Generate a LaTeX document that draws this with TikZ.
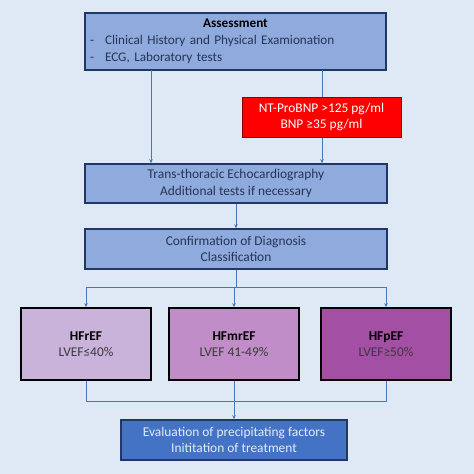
\documentclass[tikz,border=0pt]{standalone}
\usepackage{fontspec}
\setmainfont{Carlito}
\usetikzlibrary{arrows.meta}
\definecolor{bgc}{HTML}{DEE9F5}
\definecolor{boxblue}{HTML}{8FAADC}
\definecolor{navy}{HTML}{1F3864}
\definecolor{txtnavy}{HTML}{253555}
\definecolor{redfill}{HTML}{FF0000}
\definecolor{redborder}{HTML}{8B0000}
\definecolor{pA}{HTML}{C9B3DA}
\definecolor{pB}{HTML}{C08DC8}
\definecolor{pC}{HTML}{A34FA4}
\definecolor{evalfill}{HTML}{4472C4}
\definecolor{evaltxt}{HTML}{E4ECF8}
\definecolor{linec}{HTML}{4A74BE}
\definecolor{greytxt}{HTML}{3A3A3A}
\tikzset{
  x=1pt,y=-1pt,
  basebox/.style={draw, rectangle, inner sep=2pt, align=center,
    font=\fontsize{13.4}{16.5}\selectfont},
  bluebox/.style={basebox, fill=boxblue, draw=navy, line width=1.5pt, text=txtnavy},
  redbox/.style={basebox, fill=redfill, draw=redborder, line width=1pt, text=white},
  purplebox/.style={basebox, draw=black, line width=1.8pt, text=greytxt,
    minimum width=130pt, minimum height=72pt},
  evalbox/.style={basebox, fill=evalfill, draw=navy, line width=1.5pt, text=evaltxt},
  conn/.style={draw=linec, line width=0.9pt},
  arr/.style={conn, -{Stealth[length=4pt,width=3.5pt]}},
}
\begin{document}
\begin{tikzpicture}
\fill[bgc] (0,0) rectangle (474,474);
\useasboundingbox (0,0) rectangle (474,474);

\node[bluebox, minimum width=301pt, minimum height=57pt, text width=291pt, align=left, font=\fontsize{13.2}{17}\selectfont]
  (assess) at (235.5,41.5)
  {\makebox[\linewidth]{\color{black}\textbf{Assessment}}\\
   -\hspace{11pt}Clinical History and Physical Examionation\\
   -\hspace{11pt}ECG, Laboratory tests};

\node[redbox, minimum width=159pt, minimum height=40pt] (bnp) at (321.5,117)
  {NT-ProBNP >125 pg/ml\\BNP ≥35 pg/ml};

\node[bluebox, minimum width=302pt, minimum height=39pt] (tte) at (236,183.5)
  {Trans-thoracic Echocardiography\\Additional tests if necessary};

\node[bluebox, minimum width=302pt, minimum height=40pt] (conf) at (236,249)
  {Confirmation of Diagnosis\\Classification};

\node[purplebox, fill=pA] (hfr) at (86,344)
  {\textcolor{black}{\textbf{HFrEF}}\\LVEF≤40\%};
\node[purplebox, fill=pB] (hfm) at (234,344)
  {\textcolor{black}{\textbf{HFmrEF}}\\LVEF 41-49\%};
\node[purplebox, fill=pC] (hfp) at (386,344)
  {\textcolor{black}{\textbf{HFpEF}}\\LVEF≥50\%};

\node[evalbox, minimum width=226pt, minimum height=40pt] (eval) at (234,440)
  {Evaluation of precipitating factors\\Inititation of treatment};

% connectors from assessment
\coordinate (aL) at (151,70);
\coordinate (aR) at (322,70);
\draw[arr] (aL) -- (aL |- tte.north);
\draw[conn] (aR) -- (aR |- bnp.north);
\draw[arr] (aR |- bnp.south) -- (aR |- tte.north);

\draw[arr] (tte.south) -- (conf.south |- conf.north);

% split to classes
\coordinate (split) at (236,287);
\draw[conn] (conf.south) -- (split);
\draw[arr] (split) -| (hfr.north);
\draw[arr] (split) -| (hfp.north);
\draw[arr] (split -| hfm.north) -- (hfm.north);
\draw[conn] (split) -- (split -| hfm.north);

% join to evaluation
\coordinate (join) at (234,401);
\draw[conn] (hfr.south) |- (join);
\draw[conn] (hfp.south) |- (join);
\draw[conn] (hfm.south) -- (join);
\draw[arr] (join) -- (eval.north);
\end{tikzpicture}
\end{document}
